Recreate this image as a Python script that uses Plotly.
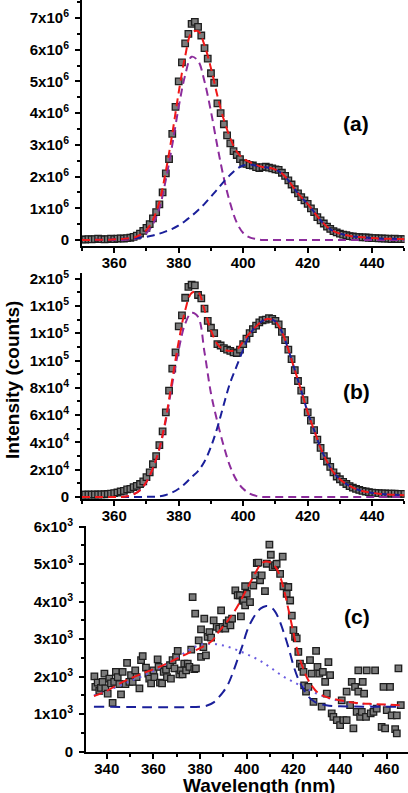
import plotly.graph_objects as go

# ---------------- Panel (a) : intensity in units of 1e6 counts ----------------
wl_a = list(range(350, 451))
int_a = [0.02,0.01,0.03,0.02,0.03,0.04,0.03,0.02,0.03,0.04,
         0.03,0.04,0.05,0.04,0.06,0.07,0.10,0.14,0.20,0.29,
         0.38,0.50,0.68,0.88,1.12,1.50,2.10,2.55,3.35,4.20,
         5.00,5.60,6.20,6.50,6.82,6.88,6.72,6.45,6.05,5.72,
         5.26,4.96,4.31,4.00,3.65,3.30,3.05,2.80,2.68,2.55,
         2.42,2.40,2.36,2.35,2.30,2.27,2.30,2.31,2.28,2.26,
         2.23,2.21,2.12,2.02,1.88,1.75,1.60,1.47,1.35,1.25,
         1.14,1.00,0.88,0.72,0.62,0.52,0.42,0.35,0.28,0.24,
         0.20,0.17,0.15,0.12,0.11,0.10,0.09,0.08,0.08,0.07,
         0.06,0.06,0.05,0.05,0.04,0.04,0.03,0.04,0.03,0.03,
         0.03]
fit_x_ab = list(range(350, 451, 2))
purple_a = [0,0,0,0,0,0,0,0.01,0.02,0.09,0.22,0.50,1.0,1.9,3.0,4.2,5.2,5.78,5.65,5.0,
            4.05,2.95,1.95,1.15,0.55,0.22,0.08,0.03] + [0]*23
blue_a = [0.0,0.0,0.01,0.01,0.01,0.02,0.03,0.04,0.05,0.07,0.10,0.14,0.20,0.27,0.35,0.46,
          0.60,0.76,0.94,1.14,1.37,1.60,1.84,2.06,2.24,2.35,2.38,2.34,2.30,2.28,2.22,2.10,
          1.88,1.60,1.35,1.14,0.88,0.62,0.42,0.28,0.20,0.15,0.11,0.09,0.08,0.06,0.05,0.04,
          0.04,0.03,0.03]
red_a = [0.0,0.0,0.01,0.01,0.01,0.02,0.03,0.05,0.07,0.16,0.32,0.64,1.2,2.17,3.35,4.66,
         5.8,6.54,6.59,6.14,5.42,4.55,3.79,3.21,2.79,2.57,2.46,2.37,2.30,2.28,2.22,2.10,
         1.88,1.60,1.35,1.14,0.88,0.62,0.42,0.28,0.20,0.15,0.11,0.09,0.08,0.06,0.05,0.04,
         0.04,0.03,0.03]

# ---------------- Panel (b) : intensity in units of 1e4 counts ----------------
wl_b = list(range(350, 451))
int_b = [0.17,0.17,0.18,0.17,0.18,0.18,0.19,0.20,0.22,0.25,
         0.28,0.33,0.40,0.45,0.55,0.60,0.72,0.82,0.95,1.15,
         1.45,1.80,2.40,3.00,3.80,4.80,6.20,7.80,9.40,10.6,
         12.5,13.3,14.6,15.4,15.55,15.5,14.8,14.55,13.8,12.9,
         12.4,12.0,11.2,11.1,10.9,10.8,10.7,10.6,10.55,10.8,
         11.2,11.6,12.0,12.3,12.55,12.8,12.95,13.0,13.1,13.05,
         12.9,12.65,12.1,11.5,10.8,10.1,9.3,8.5,7.8,7.1,
         6.2,5.6,4.9,4.2,3.6,3.0,2.6,2.2,1.8,1.5,
         1.3,1.1,0.95,0.80,0.68,0.60,0.52,0.45,0.40,0.36,
         0.32,0.30,0.28,0.27,0.26,0.25,0.25,0.24,0.23,0.23,
         0.23]
purple_b = [0]*7 + [0.05,0.2,0.5,1.1,2.1,3.5,5.6,8.3,10.8,12.7,13.5,13.2,10.6,7.6,5.5,3.7,
                    2.2,1.2,0.6,0.25,0.08] + [0]*23
blue_b = [0]*10 + [0.01,0.02,0.05,0.15,0.33,0.6,0.98,1.45,1.9,2.6,3.68,5.1,6.8,8.4,9.6,10.8,
                   11.9,12.5,12.9,13.05,12.85,12.1,10.8,9.3,7.8,6.2,4.9,3.6,2.6,1.8,1.3,0.95,
                   0.68,0.5,0.38,0.3,0.24,0.2,0.17,0.15,0.13]
red_b = [0]*7 + [0.05,0.2,0.5,1.11,2.12,3.55,5.75,8.63,11.4,13.68,14.95,15.0,13.7,12.2,11.2,
                 10.8,10.7,10.8,11.4,12.0,12.5,12.9,13.05,12.85,12.1,10.8,9.3,7.8,6.2,4.9,3.6,
                 2.6,1.8,1.3,0.95,0.68,0.5,0.38,0.3,0.24,0.2,0.17,0.15,0.13]

# ---------------- Panel (c) : intensity in units of 1e3 counts ----------------
wl_c = [334.7,335.1,336.1,336.8,337.5,338.2,339.0,339.4,340.4,341.1,341.8,342.5,343.2,343.9,
        344.7,345.4,346.1,346.8,348.0,348.7,349.7,350.4,351.1,352.2,352.8,354.0,354.7,355.4,
        356.8,357.8,358.2,359.0,360.0,360.4,361.8,362.2,362.8,363.7,364.4,365.4,365.8,367.1,
        367.5,368.2,369.0,369.7,370.4,371.1,371.8,372.5,373.2,374.0,374.7,375.4,376.2,376.8,
        377.5,377.9,378.2,379.4,380.4,380.4,381.4,381.8,382.5,383.2,384.0,384.7,385.8,387.1,
        388.2,389.0,389.7,390.8,391.4,392.3,393.0,393.7,395.1,396.1,397.1,397.5,398.2,398.6,
        399.3,399.3,400.0,401.4,402.8,403.6,404.3,405.0,405.7,406.4,407.8,408.6,409.7,410.3,
        411.1,412.1,412.8,414.3,415.4,415.7,417.1,417.8,418.6,419.3,420.0,420.7,421.4,422.1,
        422.8,423.6,424.3,424.6,425.4,426.4,427.1,427.8,428.6,429.7,430.3,431.1,432.1,432.6,
        433.6,434.3,435.0,435.7,436.4,437.1,438.6,440.0,440.7,441.4,442.8,442.8,444.3,445.0,
        445.7,446.4,447.1,447.8,447.8,448.6,449.3,449.7,450.3,451.1,451.4,453.1,454.3,455.0,
        455.7,457.8,458.6,459.3,460.0,461.4,462.1,463.6,464.3,464.3,465.0,466.0]
int_c = [2.01,1.73,1.84,1.62,1.70,1.86,2.08,1.69,1.55,1.95,1.82,1.30,1.86,2.13,
         1.99,1.80,1.53,2.13,1.80,2.37,1.86,2.04,1.86,2.17,1.99,1.69,2.44,2.55,
         2.24,2.08,1.95,1.82,2.17,1.99,2.46,2.26,1.84,1.82,2.13,2.19,1.99,2.31,
         1.95,2.44,2.22,2.53,2.69,2.06,2.17,2.06,2.35,2.17,2.35,2.26,2.72,4.12,
         2.20,3.68,2.22,2.97,2.53,3.26,2.79,3.55,2.57,3.06,3.19,3.04,3.50,3.33,
         3.28,3.77,3.33,3.28,3.43,3.50,3.37,3.55,4.30,4.17,4.17,3.61,4.03,4.03,
         3.90,4.41,4.21,3.99,4.43,4.70,5.03,5.04,4.57,4.70,4.28,5.01,5.52,5.25,
         4.92,4.97,5.01,4.74,5.20,4.41,4.21,4.39,4.03,3.63,3.24,3.06,3.02,2.66,
         2.35,2.26,2.13,1.77,1.60,1.73,2.44,2.08,1.33,2.69,2.26,2.08,1.20,2.13,
         1.86,1.55,2.39,2.04,1.02,0.93,0.84,0.71,1.37,0.84,0.84,1.60,1.24,1.86,
         0.62,1.73,1.06,2.17,1.60,0.93,1.06,1.86,1.55,0.93,2.17,1.02,1.06,2.17,
         1.15,0.66,1.73,0.62,1.11,1.73,0.97,0.60,0.49,0.97,2.22,1.24]
red_cx = [334.5,340,345,350,355,360,365,370,375,380,385,388,392,395,398,401,404,406,408,410,
          412,414,416,418,420,422,424,426,428,430,434,440,447,455,466]
red_cy = [1.48,1.62,1.80,1.95,2.08,2.20,2.33,2.48,2.63,2.76,2.95,3.20,3.50,3.77,4.10,4.45,4.80,
          5.00,5.07,5.05,4.95,4.72,4.30,3.75,3.18,2.62,2.25,1.95,1.75,1.60,1.46,1.37,1.30,1.27,1.24]
blue_cx = [334.5,380,383,386,388,390,392,394,396,398,400,402,404,406,408,410,412,414,416,418,
           420,422,424,426,428,430,434,440,466]
blue_cy = [1.20,1.20,1.23,1.32,1.45,1.60,1.80,2.10,2.45,2.80,3.20,3.48,3.68,3.82,3.88,3.86,3.75,
           3.50,3.15,2.75,2.30,1.95,1.70,1.50,1.38,1.30,1.24,1.21,1.20]
purple_cx = [334.5,340,350,360,370,375,380,385,390,395,400,405,410,415,420,425,430,435,440,450,460,466]
purple_cy = [1.50,1.62,1.88,2.15,2.50,2.70,2.85,2.88,2.83,2.73,2.60,2.45,2.25,2.03,1.86,1.70,1.55,
             1.43,1.35,1.27,1.23,1.22]

# tick labels
yt_a = [0, 1, 2, 3, 4, 5, 6, 7]
yl_a = ["0"] + [f"{v}x10<sup>6</sup>" for v in yt_a[1:]]
yt_b = [0, 2, 4, 6, 8, 10, 12, 14, 16]
yl_b = ["0", "2x10<sup>4</sup>", "4x10<sup>4</sup>", "6x10<sup>4</sup>", "8x10<sup>4</sup>",
        "1x10<sup>5</sup>", "1x10<sup>5</sup>", "1x10<sup>5</sup>", "2x10<sup>5</sup>"]
yt_c = [0, 1, 2, 3, 4, 5, 6]
yl_c = ["0"] + [f"{v}x10<sup>3</sup>" for v in yt_c[1:]]
xt_ab = [360, 380, 400, 420, 440]
xt_c = [340, 360, 380, 400, 420, 440, 460]

W, H = 408, 793
FONT = "Liberation Sans"
MARK = dict(symbol="square", size=6.5, color="#7b7b7b", line=dict(color="#1e1e1e", width=1.3))
RED, BLUE, PURP, VIOL = "#f01818", "#1a1f9a", "#8c2c9c", "#6b5ce0"

fig = go.Figure()

def px_x(p):
    return p / W

def px_y(p):
    return 1 - p / H

panels = [
    dict(ax="", dx=(82, 404.4), dy=(0, 246), xr=[350, 450], yr=[-0.19, 7.57],
         xt=xt_ab, xminor=list(range(350, 451, 10)), yt=yt_a, yl=yl_a,
         yminor=[v + 0.5 for v in range(0, 8)]),
    dict(ax="2", dx=(82, 404.4), dy=(273.3, 499.3), xr=[350, 450], yr=[-0.17, 16.39],
         xt=xt_ab, xminor=list(range(350, 451, 10)), yt=yt_b, yl=yl_b,
         yminor=list(range(1, 17, 2))),
    dict(ax="3", dx=(86, 408), dy=(525.5, 752.3), xr=[331.1, 469.1], yr=[-0.016, 6.03],
         xt=xt_c, xminor=list(range(350, 470, 20)), yt=yt_c, yl=yl_c,
         yminor=[v + 0.5 for v in range(0, 6)]),
]

def fit(x, y, ax, color, dash):
    return go.Scatter(x=x, y=y, mode="lines", xaxis="x" + ax, yaxis="y" + ax,
                      line=dict(color=color, width=2, dash=dash, shape="spline"))

fig.add_trace(go.Scatter(x=wl_a, y=int_a, mode="markers", marker=MARK, xaxis="x", yaxis="y"))
fig.add_trace(fit(fit_x_ab, purple_a, "", PURP, "8px,5px"))
fig.add_trace(fit(fit_x_ab, blue_a, "", BLUE, "8px,5px"))
fig.add_trace(fit(fit_x_ab, red_a, "", RED, "8px,5px"))

fig.add_trace(go.Scatter(x=wl_b, y=int_b, mode="markers", marker=MARK, xaxis="x2", yaxis="y2"))
fig.add_trace(fit(fit_x_ab, purple_b, "2", PURP, "8px,5px"))
fig.add_trace(fit(fit_x_ab, blue_b, "2", BLUE, "8px,5px"))
fig.add_trace(fit(fit_x_ab, red_b, "2", RED, "8px,5px"))

fig.add_trace(go.Scatter(x=wl_c, y=int_c, mode="markers", marker=MARK, xaxis="x3", yaxis="y3"))
fig.add_trace(fit(purple_cx, purple_cy, "3", VIOL, "2px,5px"))
fig.add_trace(fit(blue_cx, blue_cy, "3", BLUE, "10px,6px"))
fig.add_trace(fit(red_cx, red_cy, "3", RED, "9px,5px"))

tickfont = dict(family=FONT, size=15, color="black", weight="bold")
layout = dict(
    template="none",
    width=W, height=H, margin=dict(l=0, r=0, t=0, b=0, pad=0, autoexpand=False),
    paper_bgcolor="white", plot_bgcolor="white", showlegend=False,
    font=dict(family=FONT, color="black"),
)
for p in panels:
    xa = dict(domain=[px_x(p["dx"][0]), px_x(p["dx"][1])], range=p["xr"], automargin=False,
              anchor="y" + p["ax"], showline=True, linecolor="black", linewidth=2,
              ticks="outside", ticklen=5, tickwidth=1.5, tickcolor="black",
              tickmode="array", tickvals=p["xt"], tickfont=tickfont, showgrid=False,
              ticklabelstandoff=-3,
              zeroline=False, minor=dict(tickvals=p["xminor"], ticks="outside", ticklen=3,
                                         tickwidth=1.5, tickcolor="black", showgrid=False))
    ya = dict(domain=[px_y(p["dy"][1]), px_y(p["dy"][0])], range=p["yr"], automargin=False,
              anchor="x" + p["ax"], showline=True, linecolor="black", linewidth=2,
              ticks="outside", ticklen=5, tickwidth=1.5, tickcolor="black",
              tickmode="array", tickvals=p["yt"], ticktext=p["yl"], tickfont=tickfont,
              ticklabelstandoff=3, showgrid=False, zeroline=False,
              minor=dict(tickvals=p["yminor"], ticks="outside", ticklen=3, tickwidth=1.5,
                         tickcolor="black", showgrid=False))
    layout["xaxis" + p["ax"]] = xa
    layout["yaxis" + p["ax"]] = ya

labfont = dict(family=FONT, size=21, color="black", weight="bold")

def note(text, x, y, font, angle=0):
    return dict(text=text, x=px_x(x), y=px_y(y), xref="paper", yref="paper", showarrow=False,
                xanchor="center", yanchor="middle", textangle=angle, font=font)

layout["annotations"] = [
    note("(a)", 356, 124, labfont),
    note("(b)", 356, 392, labfont),
    note("(c)", 357, 616, labfont),
    note("Intensity (counts)", 12, 380, dict(family=FONT, size=19, color="black", weight="bold"), -90),
    note("Wavelength (nm)", 259, 785, dict(family=FONT, size=19, color="black", weight="bold")),
]
fig.update_layout(**layout)
fig.write_html("out.html")
